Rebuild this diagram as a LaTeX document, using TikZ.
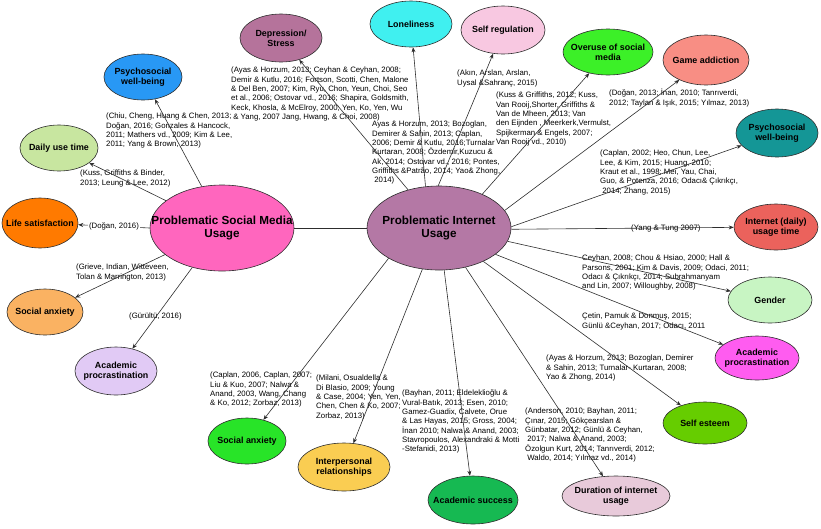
\documentclass[tikz,border=0pt]{standalone}
\usepackage{fontspec}
\setmainfont{Liberation Sans}
\usetikzlibrary{shapes.geometric,arrows.meta}
\definecolor{cPSMU}{RGB}{255,102,190}
\definecolor{cPIU}{RGB}{180,120,165}
\definecolor{cPsyL}{RGB}{40,152,245}
\definecolor{cDaily}{RGB}{200,230,160}
\definecolor{cLife}{RGB}{255,122,0}
\definecolor{cSaL}{RGB}{250,178,98}
\definecolor{cApL}{RGB}{225,202,245}
\definecolor{cDep}{RGB}{181,115,155}
\definecolor{cLone}{RGB}{64,240,240}
\definecolor{cSelfR}{RGB}{248,200,225}
\definecolor{cOver}{RGB}{60,240,40}
\definecolor{cGame}{RGB}{248,142,132}
\definecolor{cPsyR}{RGB}{20,150,150}
\definecolor{cInet}{RGB}{235,98,92}
\definecolor{cGender}{RGB}{200,245,195}
\definecolor{cApR}{RGB}{255,92,240}
\definecolor{cEsteem}{RGB}{102,205,0}
\definecolor{cDur}{RGB}{232,202,218}
\definecolor{cSucc}{RGB}{22,185,82}
\definecolor{cInter}{RGB}{250,205,82}
\definecolor{cSaB}{RGB}{40,228,40}
\definecolor{cLine}{RGB}{45,45,45}
\begin{document}
\begin{tikzpicture}[x=1pt,y=-1pt,
  bub/.style={ellipse,draw=cLine,line width=0.6pt,inner sep=0pt},
  sz/.style 2 args={minimum width=#1pt,minimum height=#2pt},
  btxt/.style={font=\bfseries\fontsize{8.9}{10}\selectfont,align=center,inner sep=0pt},
  htxt/.style={font=\bfseries\fontsize{11.7}{13.3}\selectfont,align=center,inner sep=0pt},
  cite/.style={font=\fontsize{7.8}{9.3}\selectfont,align=left,inner sep=0pt,anchor=north west},
  conn/.style={draw=cLine,line width=0.6pt},
  arr/.style={conn,-{Stealth[length=5pt,width=4pt]}},
]
\useasboundingbox (0,0) rectangle (821,528);

% hubs
\node[bub,fill=cPSMU,sz={144}{86}] (psmu) at (222,228) {};
\node[htxt] at (psmu) {Problematic Social Media\\Usage};
\node[bub,fill=cPIU,sz={144}{84}] (piu) at (439,228) {};
\node[htxt] at (piu) {Problematic Internet\\Usage};

% outer bubbles (social media side)
\node[bub,fill=cPsyL,sz={78}{46}] (psyL) at (143,77) {};
\node[btxt] at (psyL) {Psychosocial\\well-being};
\node[bub,fill=cDaily,sz={78}{46}] (daily) at (59,148) {};
\node[btxt] at (daily) {Daily use time};
\node[bub,fill=cLife,sz={76}{50}] (life) at (40,223) {};
\node[btxt] at (life) {Life satisfaction};
\node[bub,fill=cSaL,sz={76}{46}] (saL) at (45,312) {};
\node[btxt] at (saL) {Social anxiety};
\node[bub,fill=cApL,sz={82}{48}] (apL) at (116,371) {};
\node[btxt] at (apL) {Academic\\procrastination};

% outer bubbles (internet side)
\node[bub,fill=cDep,sz={82}{48}] (dep) at (281,38) {};
\node[btxt] at (dep) {Depression/\\Stress};
\node[bub,fill=cLone,sz={82}{46}] (lone) at (411,24) {};
\node[btxt] at (lone) {Loneliness};
\node[bub,fill=cSelfR,sz={84}{48}] (selfr) at (503,30) {};
\node[btxt] at (selfr) {Self regulation};
\node[bub,fill=cOver,sz={90}{46}] (over) at (608,52) {};
\node[btxt] at (over) {Overuse of social\\media};
\node[bub,fill=cGame,sz={86}{50}] (game) at (706,60) {};
\node[btxt] at (game) {Game addiction};
\node[bub,fill=cPsyR,sz={82}{48}] (psyR) at (777,133) {};
\node[btxt] at (psyR) {Psychosocial\\well-being};
\node[bub,fill=cInet,sz={84}{46}] (inet) at (776,227) {};
\node[btxt] at (inet) {Internet (daily)\\usage time};
\node[bub,fill=cGender,sz={84}{46}] (gender) at (770,300) {};
\node[btxt] at (gender) {Gender};
\node[bub,fill=cApR,sz={84}{44}] (apR) at (757,358) {};
\node[btxt] at (apR) {Academic\\procrastination};
\node[bub,fill=cEsteem,sz={84}{42}] (esteem) at (705,423) {};
\node[btxt] at (esteem) {Self esteem};
\node[bub,fill=cDur,sz={108}{40}] (dur) at (616,496) {};
\node[btxt] at (dur) {Duration of internet\\usage};
\node[bub,fill=cSucc,sz={90}{48}] (succ) at (473,500) {};
\node[btxt] at (succ) {Academic success};
\node[bub,fill=cInter,sz={92}{48}] (inter) at (344,467) {};
\node[btxt] at (inter) {Interpersonal\\relationships};
\node[bub,fill=cSaB,sz={78}{46}] (saB) at (247,441) {};
\node[btxt] at (saB) {Social anxiety};

% citations
\node[cite] (tPsyL) at (106,113) {(Chiu, Cheng, Huang \& Chen, 2013;\\Doğan, 2016; Gonzales \& Hancock,\\2011; Mathers vd., 2009; Kim \& Lee,\\2011; Yang \& Brown, 2013)};
\node[cite] (tDaily) at (80,170) {(Kuss, Griffiths \& Binder,\\2013; Leung \& Lee, 2012)};
\node[cite] (tSaL) at (76,264) {(Grieve, Indian, Witteveen,\\Tolan \& Marrington, 2013)};
\node[cite] (tApL) at (129,313) {(Gürültü, 2016)};
\node[cite] (tDep) at (231,67) {(Ayas \& Horzum, 2013; Ceyhan \& Ceyhan, 2008;\\Demir \& Kutlu, 2016; Fortson, Scotti, Chen, Malone\\\& Del Ben, 2007; Kim, Ryu, Chon, Yeun, Choi, Seo\\et al., 2006; Ostovar vd., 2016; Shapira, Goldsmith,\\Keck, Khosla, \& McElroy, 2000; Yen, Ko, Yen, Wu\\\ \& Yang, 2007 Jang, Hwang, \& Choi, 2008)};
\node[cite] (tLone) at (372,121) {Ayas \& Horzum, 2013; Bozoglan,\\Demirer \& Sahin, 2013; Caplan,\\2006; Demir \& Kutlu, 2016;Turnalar\\Kurtaran, 2008; Özdemir,Kuzucu \&\\Ak, 2014; Ostovar vd., 2016; Pontes,\\Griffiths \&Patrão, 2014; Yao\& Zhong,\\\ 2014)};
\node[cite] (tSelfR) at (457,70) {(Akın, Arslan, Arslan,\\Uysal \&Sahranç, 2015)};
\node[cite] (tOver) at (496,92) {(Kuss \& Griffiths, 2012; Kuss,\\Van Rooij,Shorter, Griffiths \&\\Van de Mheen, 2013; Van\\den Eijnden , Meerkerk,Vermulst,\\Spijkerman \& Engels, 2007;\\Van Rooij vd., 2010)};
\node[cite] (tGame) at (609,89) {(Doğan, 2013; İnan, 2010; Tanrıverdi,\\2012; Taylan \& Işık, 2015; Yılmaz, 2013)};
\node[cite] (tPsyR) at (600,150) {(Caplan, 2002; Heo, Chun, Lee,\\Lee, \& Kim, 2015; Huang, 2010;\\Kraut et al., 1998; Mei, Yau, Chai,\\Guo, \& Potenza, 2016; Odacı\& Çıkrıkçı,\\\ 2014; Zhang, 2015)};
\node[cite] (tInet) at (631,225) {(Yang \& Tung 2007)};
\node[cite] (tGender) at (582,255) {Ceyhan, 2008; Chou \& Hsiao, 2000; Hall \&\\Parsons, 2001; Kim \& Davis, 2009; Odaci, 2011;\\Odacı \& Çıkrıkçı, 2014; Subrahmanyam\\and Lin, 2007; Willoughby, 2008)};
\node[cite] (tApR) at (582,313) {Çetin, Pamuk \& Donmuş, 2015;\\Günlü \&Ceyhan, 2017; Odacı, 2011};
\node[cite] (tEsteem) at (546,355) {(Ayas \& Horzum, 2013; Bozoglan, Demirer\\\& Sahin, 2013; Turnalar- Kurtaran, 2008;\\Yao \& Zhong, 2014)};
\node[cite] (tDur) at (525,408) {(Anderson, 2010; Bayhan, 2011;\\Çınar, 2015; Gökçearslan \&\\Günbatar, 2012; Günlü \& Ceyhan,\\\ 2017; Nalwa \& Anand, 2003;\\Özolgun Kurt, 2014; Tanrıverdi, 2012;\\\ Waldo, 2014; Yılmaz vd., 2014)};
\node[cite] (tSucc) at (402,390) {(Bayhan, 2011; Eldeleklioğlu \&\\Vural-Batık, 2013; Esen, 2010;\\Gamez-Guadix, Calvete, Orue\\\& Las Hayas, 2015; Gross, 2004;\\İnan 2010; Nalwa \& Anand, 2003;\\Stavropoulos, Alexandraki \& Motti\\-Stefanidi, 2013)};
\node[cite] (tInter) at (316,375) {(Milani, Osualdella \&\\Di Blasio, 2009; Young\\\& Case, 2004; Yen, Yen,\\Chen, Chen \& Ko, 2007;\\Zorbaz, 2013)};
\node[cite] (tSaB) at (210,372) {(Caplan, 2006, Caplan, 2007;\\Liu \& Kuo, 2007; Nalwa \&\\Anand, 2003, Wang, Chang\\\& Ko, 2012; Zorbaz, 2013)};

% connectors: social media hub
\draw[conn] (psmu) -- (piu);
\draw[arr] (psmu.116) -- (psyL);
\draw[arr] (psmu.154) -- (daily);
\draw[arr] (psmu.west) -- (life) node[midway,fill=white,inner sep=1pt,font=\fontsize{7.8}{9.3}\selectfont] (tLife) {(Doğan, 2016)};
\draw[arr] (psmu.205) -- (saL);
\draw[arr] (psmu.233) -- (apL);

% connectors: internet hub
\draw[arr] (piu.129) -- (dep);
\draw[arr] (piu.108) -- (lone);
\draw[arr] (piu.91) -- (selfr);
\draw[arr] (piu.38) -- (over);
\draw[arr] (piu.15) -- (game);
\draw[arr] (piu.1) -- (psyR);
\draw[arr] (piu.-1) -- (inet);
\draw[arr] (piu.-11) -- (gender);
\draw[arr] (piu.-25) -- (apR);
\draw[arr] (piu.-37) -- (esteem);
\draw[arr] (piu.-56) -- (dur);
\draw[arr] (piu.-83) -- (succ);
\draw[arr] (piu.-112) -- (inter);
\draw[arr] (piu.-149) -- (saB);
\end{tikzpicture}
\end{document}
